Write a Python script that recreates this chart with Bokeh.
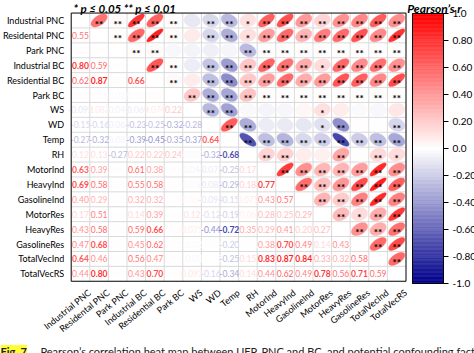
import numpy as np
from bokeh.plotting import figure
from bokeh.models import Range1d, Label
from bokeh.core.properties import value
from bokeh.embed import file_html
from bokeh.resources import INLINE

# ---------------- data ----------------
variables = ["Industrial PNC", "Residental PNC", "Park PNC", "Industrial BC",
             "Residential BC", "Park BC", "WS", "WD", "Temp", "RH", "MotorInd",
             "HeavyInd", "GasolineInd", "MotorRes", "HeavyRes", "GasolineRes",
             "TotalVecInd", "TotalVecRS"]

# lower triangle: row i holds r(i, j) for j < i
lower_rows = [
    [],
    [0.55],
    [0.02, 0.01],
    [0.80, 0.59, 0.01],
    [0.62, 0.87, 0.02, 0.66],
    [0.01, 0.02, -0.026, 0.01, 0.02],
    [-0.092, 0.083, -0.049, -0.069, 0.074, 0.22],
    [-0.15, -0.16, -0.063, -0.23, -0.25, -0.32, -0.28],
    [-0.27, -0.32, -0.039, -0.39, -0.45, -0.35, -0.37, 0.64],
    [0.12, 0.13, -0.27, 0.22, 0.22, 0.24, -0.023, -0.32, -0.68],
    [0.63, 0.39, 0.01, 0.61, 0.38, 0.01, -0.045, -0.075, -0.25, 0.17],
    [0.69, 0.58, 0.01, 0.55, 0.58, 0.01, -0.032, -0.083, -0.29, 0.18, 0.77],
    [0.40, 0.29, 0.01, 0.32, 0.32, 0.01, 0.034, -0.094, -0.15, 0.075, 0.43, 0.57],
    [0.17, 0.51, 0.01, 0.14, 0.39, 0.01, 0.12, -0.12, -0.19, 0.060, 0.28, 0.25, 0.29],
    [0.43, 0.58, 0.01, 0.59, 0.66, 0.01, 0.075, -0.44, -0.72, 0.35, 0.29, 0.41, 0.20, 0.27],
    [0.47, 0.68, 0.01, 0.45, 0.62, 0.01, -0.020, 0.006, -0.20, -0.002, 0.38, 0.70, 0.49, 0.14, 0.43],
    [0.64, 0.46, 0.01, 0.56, 0.47, 0.01, -0.030, 0.005, -0.25, 0.15, 0.83, 0.87, 0.84, 0.33, 0.32, 0.58],
    [0.44, 0.80, 0.01, 0.43, 0.70, 0.01, 0.093, -0.16, -0.34, 0.14, 0.44, 0.62, 0.49, 0.78, 0.56, 0.71, 0.59],
]

# significance marks, upper triangle: row i holds cols i+1 .. 17
star_rows = [
    ["**", "**", "**", "**", "**", "", "**", "**", "*", "**", "**", "**", "**", "**", "**", "**", "**"],
    ["**", "**", "**", "**", "", "**", "**", "*", "**", "**", "**", "**", "**", "**", "**", "**"],
    ["**", "**", "", "", "", "", "**", "**", "**", "**", "**", "**", "**", "**", "**"],
    ["**", "**", "", "**", "**", "**", "**", "**", "**", "*", "**", "**", "**", "**"],
    ["**", "", "**", "**", "**", "**", "**", "**", "**", "**", "**", "**", "**"],
    ["**", "**", "**", "**", "**", "**", "**", "**", "**", "**", "**", "**"],
    ["**", "**", "", "", "", "", "*", "", "", "", ""],
    ["**", "**", "", "", "", "*", "**", "", "", "**"],
    ["**", "**", "**", "**", "**", "**", "**", "**", "**"],
    ["**", "**", "", "", "**", "", "**", "*"],
    ["**", "**", "**", "**", "**", "**", "**"],
    ["**", "**", "**", "**", "**", "**"],
    ["**", "**", "**", "**", "**"],
    ["**", "*", "**", "**"],
    ["**", "**", "**"],
    ["**", "**"],
    ["**"],
    [],
]

cbar_ticks = [1.0, 0.8, 0.6, 0.4, 0.2, 0.0, -0.2, -0.4, -0.6, -0.8, -1.0]
cbar_tick_labels = ["1.0", "0.80", "0.60", "0.40", "0.20", "0.0", "-0.20",
                    "-0.40", "-0.60", "-0.80", "-1.0"]
legend_text = "* p \u2264 0.05 ** p \u2264 0.01"
cbar_title = "Pearson\u2019s r"
caption_tag = "Fig. 7"
caption_text = ("Pearson\u2019s correlation heat map between UFP, PNC and BC, "
                "and potential confounding factors. Note")

# ---------------- helpers ----------------
n = len(variables)
R = np.eye(n)
for i, row in enumerate(lower_rows):
    for j, v in enumerate(row):
        R[i, j] = v
        R[j, i] = v


def cmap(v):
    v = max(-1.0, min(1.0, float(v)))
    if v >= 0:
        g = int(round(255 * (1 - v)))
        return "#%02x%02x%02x" % (255, g, g)
    a = -v
    rg = int(round(255 * (1 - a)))
    b = int(round(255 - (255 - 139) * a))
    return "#%02x%02x%02x" % (rg, rg, b)


def fmt(v):
    if abs(v) >= 0.1:
        return "%.2f" % v
    return "%.2g" % v


FONT = "Lato"
W, H = 474, 353
CW, CH = 18.6, 14.9       # cell size in px
X0, Y0 = 80.0, 20.0       # px centre of first cell

p = figure(width=W, height=H, output_backend="svg", toolbar_location=None,
           x_axis_type=None, y_axis_type=None, min_border=0,
           x_range=Range1d(-X0 / CW, (W - X0) / CW),
           y_range=Range1d((H - Y0) / CH, -Y0 / CH))
p.grid.visible = False
p.outline_line_color = None
p.background_fill_color = "white"
p.border_fill_color = "white"

# colorbar value range (extra y range): v=1 at py 13, v=-1 at py 283
CB_TOP, CB_BOT = 13.0, 283.0
k = (CB_BOT - CB_TOP) / 2.0
p.extra_y_ranges = {"cb": Range1d(1 - (H - CB_TOP) / k, 1 + CB_TOP / k)}

# grid lines
lo, hi = -0.5, n - 0.5
gx0, gx1, gy0, gy1 = [], [], [], []
for kk in range(1, n):
    gx0 += [lo + kk, lo]; gx1 += [lo + kk, hi]
    gy0 += [lo, lo + kk]; gy1 += [hi, lo + kk]
p.segment(x0=gx0, y0=gy0, x1=gx1, y1=gy1, line_color="#d9d9d9", line_width=1)

# ellipses (upper triangle)
t = np.linspace(0, 2 * np.pi, 64)
exs, eys, ecol = [], [], []
for i in range(n):
    for j in range(i + 1, n):
        r = R[i, j]
        d = np.arccos(r)
        ex = 0.87 * np.cos(t + d / 2) / 2
        ey = 0.87 * np.cos(t - d / 2) / 2
        exs.append(list(j + ex))
        eys.append(list(i - ey))
        ecol.append(cmap(r))
p.patches(xs=exs, ys=eys, fill_color=ecol, line_color=ecol, line_width=0.5)

# stars
sx, sy, st = [], [], []
for i, row in enumerate(star_rows):
    for kk, s in enumerate(row):
        if s:
            sx.append(i + 1 + kk); sy.append(i); st.append(s)
p.text(x=sx, y=sy, text=st, text_font=value(FONT), text_font_size="10px",
       text_font_style="bold", text_color="black", text_align="center",
       text_baseline="middle", y_offset=3)

# numbers (lower triangle)
for bold in (False, True):
    nx, ny, nt, nc = [], [], [], []
    for i, row in enumerate(lower_rows):
        for j, v in enumerate(row):
            if (abs(v) >= 0.63) == bold:
                nx.append(j); ny.append(i); nt.append(fmt(v)); nc.append(cmap(v))
    p.text(x=nx, y=ny, text=nt, text_color=nc, text_font=value(FONT),
           text_font_size="8.5px", text_font_style="bold" if bold else "normal",
           text_align="center", text_baseline="middle")

# frame
p.quad(left=[lo], right=[hi], bottom=[hi], top=[lo], fill_color=None,
       line_color="black", line_width=1)

# row labels
p.text(x=[lo] * n, y=list(range(n)), text=variables, text_font=value(FONT),
       text_font_size="9px", text_color="black", text_align="right",
       text_baseline="middle", x_offset=-7)
# column labels
p.text(x=list(range(n)), y=[hi] * n, text=variables, text_font=value(FONT),
       text_font_size="9px", text_color="black", text_align="right",
       text_baseline="middle", angle=np.deg2rad(39), x_offset=9, y_offset=10)

# colorbar
CB_L = (412 - X0) / CW
CB_R = (443 - X0) / CW
edges = np.linspace(-1, 1, 201)
mids = (edges[:-1] + edges[1:]) / 2
cols = [cmap(m) for m in mids]
p.quad(left=CB_L, right=CB_R, bottom=edges[:-1], top=edges[1:], fill_color=cols,
       line_color=cols, line_width=0.6, y_range_name="cb")
p.quad(left=[CB_L], right=[CB_R], bottom=[-1], top=[1], fill_color=None,
       line_color="black", line_width=1, y_range_name="cb")
p.segment(x0=[CB_R] * len(cbar_ticks), x1=[CB_R + 5 / CW] * len(cbar_ticks),
          y0=cbar_ticks, y1=cbar_ticks, line_color="black", line_width=1,
          y_range_name="cb")
p.text(x=[CB_R] * len(cbar_ticks), y=cbar_ticks, text=cbar_tick_labels,
       text_font=value(FONT), text_font_size="10px", text_color="black",
       text_align="left", text_baseline="middle", x_offset=9, y_range_name="cb")

# titles
p.add_layout(Label(x=73, y=H - 8, x_units="screen", y_units="screen",
                   text=legend_text, text_font=FONT, text_font_size="11.5px",
                   text_font_style="bold italic", text_color="black",
                   text_baseline="alphabetic"))
p.add_layout(Label(x=461, y=H - 8, x_units="screen", y_units="screen",
                   text=cbar_title, text_font=FONT, text_font_size="12px",
                   text_font_style="bold italic", text_color="black",
                   text_align="right", text_baseline="alphabetic"))
# caption (cut by window bottom)
p.add_layout(Label(x=0, y=2, x_units="screen", y_units="screen",
                   text=caption_tag, text_font=FONT, text_font_size="11px",
                   text_font_style="bold", text_color="#222222",
                   background_fill_color="#ffff33", text_baseline="alphabetic"))
p.add_layout(Label(x=40, y=2, x_units="screen", y_units="screen",
                   text=caption_text, text_font=FONT, text_font_size="11px",
                   text_color="#222222", text_baseline="alphabetic"))

open("out.html", "w").write(file_html(p, INLINE))
